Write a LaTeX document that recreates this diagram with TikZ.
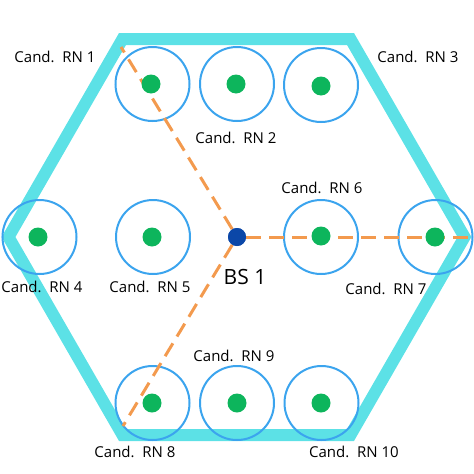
\documentclass[tikz,border=0pt]{standalone}
\usepackage{fontspec}
\setmainfont{Open Sans}
\usepackage{xcolor}
\definecolor{cellcyan}{HTML}{5CE1E6}
\definecolor{rangeblue}{HTML}{3BA4EE}
\definecolor{rngreen}{HTML}{0DB55C}
\definecolor{bsblue}{HTML}{0B47A8}
\definecolor{linkorange}{HTML}{F39A4E}
\usetikzlibrary{positioning}

\tikzset{
  cell/.style={line width=12pt, color=cellcyan, line join=miter},
  coverage/.style={circle, draw=rangeblue, line width=2pt, minimum size=74pt, inner sep=0pt},
  relay/.style={circle, fill=rngreen, minimum size=19pt, inner sep=0pt},
  basestation/.style={circle, fill=bsblue, minimum size=18pt, inner sep=0pt},
  link/.style={line width=3pt, color=linkorange, dash pattern=on 15pt off 8pt},
  cand/.style={font=\fontsize{15}{18}\selectfont, inner sep=0pt}
}

\begin{document}
\begin{tikzpicture}[x=1pt, y=-1pt]
  \useasboundingbox (0,0) rectangle (474,474);

  % --- hexagonal cell ---
  \draw[cell] (122.5,39) -- (350.5,39) -- (464.5,237) -- (350.5,435)
    -- (122.5,435) -- (8.5,237) -- cycle;

  % --- coverage circles of the candidates ---
  \node[coverage] (cov1) at (152.5,84) {};
  \node[coverage] (cov2) at (237,84) {};
  \node[coverage] (cov3) at (321,85) {};
  \node[coverage] (cov4) at (39.5,237) {};
  \node[coverage] (cov5) at (153,237) {};
  \node[coverage] (cov6) at (321,237) {};
  \node[coverage] (cov7) at (435.5,237) {};
  \node[coverage] (cov8) at (152.5,403) {};
  \node[coverage] (cov9) at (237,403) {};
  \node[coverage] (cov10) at (321.5,403) {};

  % sector borders from the base station
  \node[basestation] (bs) at (237,237) {};
  \coordinate (tl) at (121,47);
  \coordinate (bl) at (123,426);
  \coordinate (rt) at (474,237);
  \draw[link] (bs) -- (tl);
  \draw[link] (bs) -- (bl);
  \draw[link] (bs) -- (rt);
  \node[basestation] at (bs) {};

  % --- candidate relay nodes ---
  \node[relay] (rn1) at (151,84) {};
  \node[relay] (rn2) at (236,84) {};
  \node[relay] (rn3) at (321,86) {};
  \node[relay] (rn4) at (38,237) {};
  \node[relay] (rn5) at (152,237) {};
  \node[relay] (rn6) at (321,236) {};
  \node[relay] (rn7) at (435,237) {};
  \node[relay] (rn8) at (152,403) {};
  \node[relay] (rn9) at (237,403) {};
  \node[relay] (rn10) at (321,403) {};

  % --- labels ---
  \node[cand] (lab1) at (55,57) {Cand.\ \ RN 1};
  \node[cand] (lab2) at (236,138) {Cand.\ \ RN 2};
  \node[cand] (lab3) at (418,57) {Cand.\ \ RN 3};
  \node[cand] (lab4) at (42,287) {Cand.\ \ RN 4};
  \node[cand] (lab5) at (150,287) {Cand.\ \ RN 5};
  \node[cand] (lab6) at (322,188) {Cand.\ \ RN 6};
  \node[cand] (lab7) at (386,289) {Cand.\ \ RN 7};
  \node[cand] (lab8) at (135,452) {Cand.\ \ RN 8};
  \node[cand] (lab9) at (234,356) {Cand.\ \ RN 9};
  \node[cand] (lab10) at (354,452) {Cand.\ \ RN 10};
  \node[font=\fontsize{21}{25}\selectfont, inner sep=0pt] (bslab) at (245,277) {BS 1};
\end{tikzpicture}
\end{document}
